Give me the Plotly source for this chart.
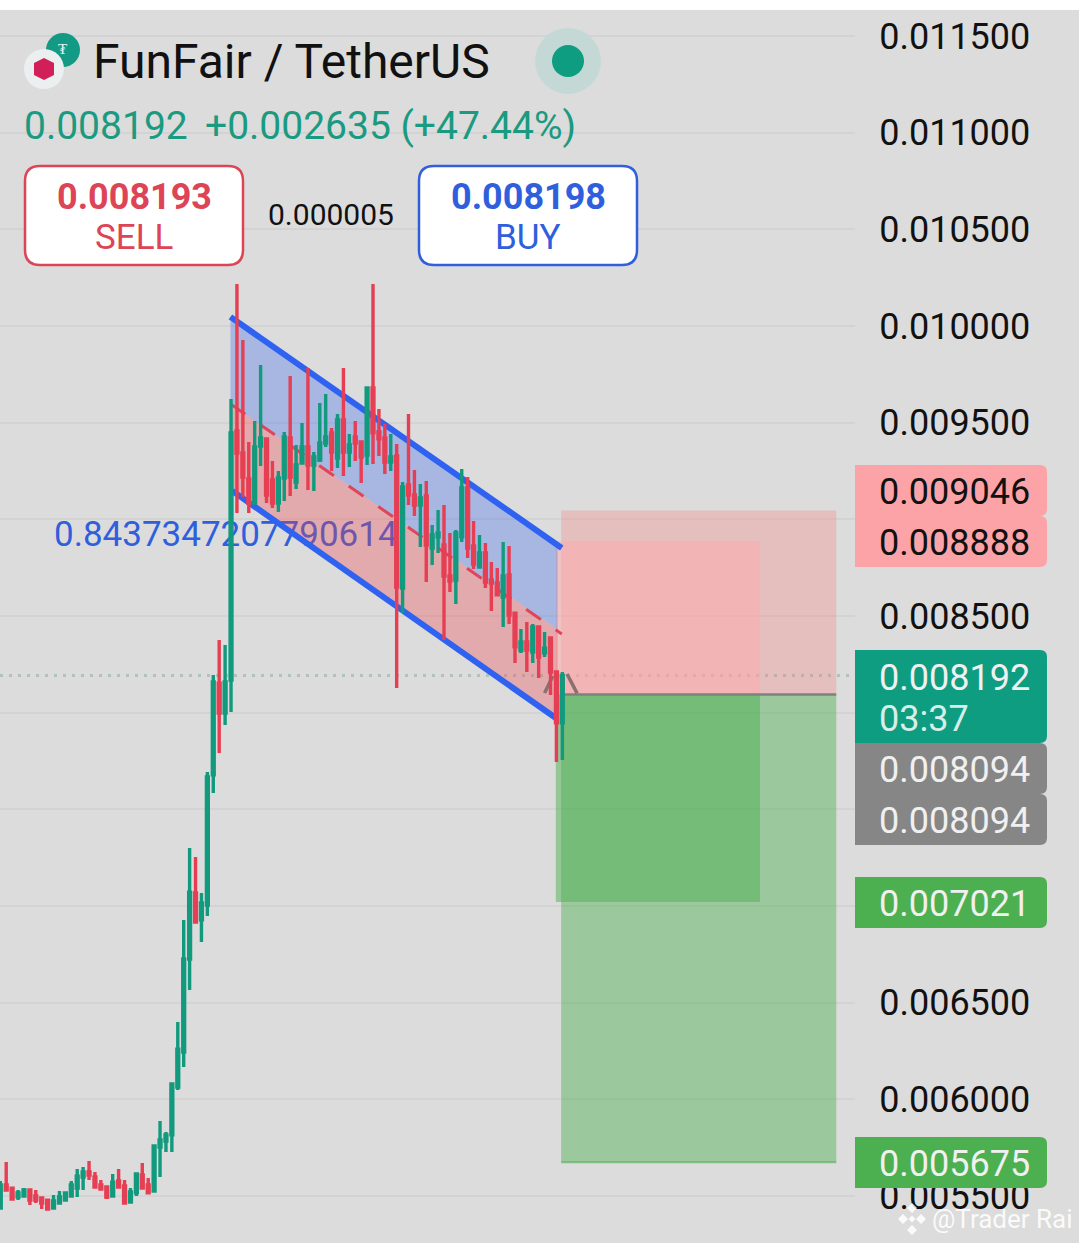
#FunFair / TetherUS chart with channel and two position boxes
import plotly.graph_objects as go

W = 1079; H = 1243
PLOT_W = 855

open_ = [0.005438,0.005557,0.005541,0.005495,0.005500,0.005531,0.005500,0.005490,0.005479,0.005438,
    0.005464,0.005479,0.005500,0.005541,0.005598,0.005624,0.005598,0.005557,0.005547,0.005500,
    0.005578,0.005552,0.005469,0.005516,0.005609,0.005557,0.005526,0.005753,0.005784,0.005816,
    0.006064,0.006245,0.006726,0.007067,0.006928,0.007005,0.007678,0.008153,0.007998,0.008169,
    0.009457,0.009343,0.009209,0.009084,0.009379,0.009416,0.009203,0.009084,0.009214,0.009421,
    0.009193,0.009291,0.009374,0.009281,0.009307,0.009395,0.009447,0.009317,0.009514,0.009348,
    0.009426,0.009400,0.009333,0.009679,0.009452,0.009421,0.009296,0.009328,0.008645,0.009178,
    0.009126,0.009074,0.009121,0.008852,0.008909,0.008867,0.008707,0.008686,0.008909,0.009162,
    0.008862,0.008753,0.008826,0.008686,0.008671,0.008598,0.008712,0.008515,0.008324,0.008366,
    0.008314,0.008443,0.008309,0.008386,0.008210,0.007947]
high = [0.005578,0.005676,0.005547,0.005531,0.005541,0.005536,0.005531,0.005490,0.005479,0.005505,
    0.005526,0.005521,0.005578,0.005640,0.005650,0.005681,0.005624,0.005583,0.005547,0.005614,
    0.005640,0.005583,0.005541,0.005619,0.005671,0.005593,0.005764,0.005888,0.005831,0.006084,
    0.006400,0.006928,0.007300,0.007253,0.007067,0.007693,0.008195,0.008376,0.008350,0.009622,
    0.010217,0.009928,0.009400,0.009509,0.009798,0.009416,0.009302,0.009250,0.009452,0.009741,
    0.009384,0.009498,0.009783,0.009348,0.009602,0.009648,0.009472,0.009545,0.009783,0.009441,
    0.009509,0.009400,0.009679,0.010217,0.009571,0.009493,0.009441,0.009390,0.009193,0.009545,
    0.009255,0.009183,0.009198,0.008971,0.009048,0.009074,0.008929,0.008945,0.009260,0.009219,
    0.008991,0.008919,0.008878,0.008779,0.008748,0.008883,0.008862,0.008521,0.008433,0.008469,
    0.008459,0.008448,0.008417,0.008386,0.008216,0.008210]
low = [0.005438,0.005531,0.005479,0.005479,0.005495,0.005453,0.005464,0.005433,0.005433,0.005438,
    0.005459,0.005479,0.005495,0.005495,0.005531,0.005583,0.005547,0.005531,0.005484,0.005500,
    0.005547,0.005459,0.005469,0.005500,0.005536,0.005510,0.005521,0.005598,0.005728,0.005728,
    0.006048,0.006167,0.006566,0.006912,0.006814,0.006948,0.007584,0.007791,0.007936,0.008003,
    0.009033,0.009116,0.009033,0.009084,0.009276,0.009084,0.009059,0.009038,0.009095,0.009121,
    0.009157,0.009291,0.009152,0.009147,0.009296,0.009374,0.009250,0.009266,0.009224,0.009271,
    0.009302,0.009188,0.009281,0.009286,0.009328,0.009234,0.009250,0.008128,0.008515,0.009074,
    0.009017,0.008857,0.008676,0.008764,0.008826,0.008376,0.008624,0.008562,0.008883,0.008800,
    0.008743,0.008748,0.008645,0.008526,0.008609,0.008443,0.008459,0.008257,0.008309,0.008210,
    0.008257,0.008179,0.008288,0.008091,0.007745,0.007755]
close = [0.005557,0.005531,0.005484,0.005516,0.005531,0.005479,0.005479,0.005464,0.005433,0.005474,
    0.005495,0.005516,0.005557,0.005603,0.005624,0.005609,0.005547,0.005536,0.005495,0.005572,
    0.005547,0.005464,0.005521,0.005614,0.005541,0.005516,0.005759,0.005790,0.005816,0.006079,
    0.006260,0.006726,0.007072,0.006917,0.007016,0.007667,0.008159,0.007998,0.008159,0.009447,
    0.009343,0.009219,0.009084,0.009374,0.009421,0.009126,0.009084,0.009214,0.009426,0.009219,
    0.009281,0.009374,0.009281,0.009322,0.009395,0.009426,0.009348,0.009514,0.009348,0.009384,
    0.009395,0.009322,0.009679,0.009447,0.009416,0.009296,0.009322,0.008650,0.009167,0.009126,
    0.009074,0.009110,0.008867,0.008919,0.008929,0.008707,0.008681,0.008929,0.009162,0.008852,
    0.008769,0.008826,0.008676,0.008671,0.008609,0.008707,0.008505,0.008340,0.008366,0.008324,
    0.008443,0.008288,0.008334,0.008210,0.007947,0.008192]
candles = list(range(len(close)))

tick_vals = [0.0055,0.006,0.0065,0.007,0.0075,0.008,0.0085,0.009,0.0095,0.01,0.0105,0.011,0.0115]

# drawing tools, x in candle numbers, y in prices
channel_x = [38.9, 94.9]
channel_top = [0.010047, 0.008852]
channel_mid = [0.009597, 0.008407]
channel_bottom_x = [39.2, 93.9]
channel_bottom = [0.009147, 0.007972]

outer_x = [94.8, 141.3]
inner_x = [93.9, 128.4]
outer_stop = 0.009046
inner_stop = 0.008888
entry = 0.008094
inner_target = 0.007021
outer_target = 0.005675
last_price = 0.008192
arrow_left_x = [92.0, 93.4]
arrow_left_y = [0.008102, 0.008190]
arrow_right_x = [95.8, 97.5]
arrow_right_y = [0.008200, 0.008100]

# axis ranges that put the candles where the screenshot has them
y_top = 0.011686
y_bottom = 0.005257
x_left = -0.05
x_right = 144.47

GREEN = '#129a7e'
RED = '#e63e52'
BLUE = '#2f62f0'
TEXT_BLUE = '#2f5fdc'
FONT = 'Roboto'
PRICE_SIZE = 36

def fx(px):
    return px / PLOT_W

def fy(py):
    return 1 - py / H

def rounded(x0, y0, x1, y1, r, left=True):
    # path in paper coords, left corners can stay square for the price pills
    rl = r if left else 0
    pts = 'M %f,%f ' % (fx(x0 + rl), fy(y0))
    pts += 'L %f,%f ' % (fx(x1 - r), fy(y0))
    pts += 'Q %f,%f %f,%f ' % (fx(x1), fy(y0), fx(x1), fy(y0 + r))
    pts += 'L %f,%f ' % (fx(x1), fy(y1 - r))
    pts += 'Q %f,%f %f,%f ' % (fx(x1), fy(y1), fx(x1 - r), fy(y1))
    pts += 'L %f,%f ' % (fx(x0 + rl), fy(y1))
    if left:
        pts += 'Q %f,%f %f,%f ' % (fx(x0), fy(y1), fx(x0), fy(y1 - r))
        pts += 'L %f,%f ' % (fx(x0), fy(y0 + r))
        pts += 'Q %f,%f %f,%f ' % (fx(x0), fy(y0), fx(x0 + r), fy(y0))
    else:
        pts += 'L %f,%f ' % (fx(x0), fy(y0))
    return pts + 'Z'

def poly(points):
    return 'M ' + ' L '.join('%f,%f' % (fx(a), fy(b)) for a, b in points) + ' Z'

def paper_shape(path, fill, line='rgba(0,0,0,0)', width=0):
    return dict(type='path', xref='paper', yref='paper', path=path, fillcolor=fill,
                line=dict(color=line, width=width), layer='above')

def circle(cx, cy, r, fill):
    return dict(type='circle', xref='paper', yref='paper', x0=fx(cx - r), x1=fx(cx + r),
                y0=fy(cy + r), y1=fy(cy - r), fillcolor=fill, line=dict(width=0), layer='above')

def label(px, py, text, size, color, anchor='left', bold=False):
    return dict(xref='paper', yref='paper', x=fx(px), y=fy(py), text=('<b>%s</b>' % text) if bold else text,
                showarrow=False, xanchor=anchor, yanchor='middle',
                font=dict(family=FONT, size=size, color=color))

fig = go.Figure()
fig.add_trace(go.Candlestick(x=candles, open=open_, high=high, low=low, close=close,
    whiskerwidth=0,
    increasing=dict(line=dict(color=GREEN, width=3.4), fillcolor=GREEN),
    decreasing=dict(line=dict(color=RED, width=3.4), fillcolor=RED)))

shapes = []
# blue number sits behind the candles so it goes in as a shape label
shapes.append(dict(type='rect', xref='paper', yref='paper', x0=fx(48), x1=fx(420), y0=fy(552), y1=fy(510),
    fillcolor='rgba(0,0,0,0)', line=dict(width=0), layer='between',
    label=dict(text='0.8437347207790614', textposition='middle left',
               font=dict(family=FONT, size=35, color=TEXT_BLUE))))

def box(xs, y0, y1, fill):
    return dict(type='rect', x0=xs[0], x1=xs[1], y0=y0, y1=y1, fillcolor=fill,
                line=dict(width=0), layer='between')

shapes.append(box(outer_x, entry, outer_stop, 'rgba(255,110,110,0.27)'))
shapes.append(box(outer_x, outer_target, entry, 'rgba(76,175,80,0.44)'))
shapes.append(box(inner_x, entry, inner_stop, 'rgba(255,170,170,0.5)'))
shapes.append(box(inner_x, inner_target, entry, 'rgba(76,175,80,0.5)'))
shapes.append(dict(type='line', x0=outer_x[0], x1=outer_x[1], y0=entry, y1=entry,
    line=dict(color='#808080', width=2.5), layer='between'))
shapes.append(dict(type='line', x0=outer_x[0], x1=outer_x[1], y0=outer_target, y1=outer_target,
    line=dict(color='rgba(76,175,80,0.6)', width=2), layer='between'))

# channel fills
def quad(xa, ya0, ya1, xb, yb0, yb1, fill):
    return dict(type='path', path='M %f,%f L %f,%f L %f,%f L %f,%f Z' % (xa, ya0, xb, yb0, xb, yb1, xa, ya1),
                fillcolor=fill, line=dict(width=0), layer='between')

shapes.append(quad(channel_x[0], channel_top[0], channel_mid[0], 94.2, 0.008883, 0.008430, 'rgba(47,98,240,0.3)'))
shapes.append(quad(channel_x[0], channel_mid[0], channel_bottom[0], 94.2, 0.008430, 0.007950, 'rgba(240,70,80,0.33)'))
shapes.append(dict(type='line', x0=channel_x[0], x1=channel_x[1], y0=channel_mid[0], y1=channel_mid[1],
    line=dict(color='#e0455a', width=3, dash='18px,18px'), layer='between'))
shapes.append(dict(type='line', x0=channel_x[0], x1=channel_x[1], y0=channel_top[0], y1=channel_top[1],
    line=dict(color=BLUE, width=6), layer='between'))
shapes.append(dict(type='line', x0=channel_bottom_x[0], x1=channel_bottom_x[1], y0=channel_bottom[0], y1=channel_bottom[1],
    line=dict(color=BLUE, width=6), layer='between'))
shapes.append(dict(type='line', x0=arrow_left_x[0], x1=arrow_left_x[1], y0=arrow_left_y[0], y1=arrow_left_y[1],
    line=dict(color='#8a7070', width=3.5), layer='between'))
shapes.append(dict(type='line', x0=arrow_right_x[0], x1=arrow_right_x[1], y0=arrow_right_y[0], y1=arrow_right_y[1],
    line=dict(color='#8a7070', width=3.5), layer='between'))
shapes.append(dict(type='line', xref='paper', x0=0, x1=1, y0=last_price, y1=last_price,
    line=dict(color='#aec4ba', width=3, dash='3px,6px'), layer='between'))

# strip of white at the very top of the screenshot
shapes.append(dict(type='rect', xref='paper', yref='paper', x0=0, x1=fx(W), y0=fy(10), y1=1,
    fillcolor='white', line=dict(width=0), layer='above'))

# header icons
shapes.append(circle(63, 50, 17, '#129a85'))
shapes.append(circle(44, 69, 20, '#eceff0'))
shapes.append(paper_shape(poly([(44,58),(54,63),(54,75),(44,80),(34,75),(34,63)]), '#d21f5a'))
shapes.append(circle(568, 61, 33, '#c4d9d5'))
shapes.append(circle(568, 61, 16, '#0f9d82'))

# sell/buy buttons
shapes.append(paper_shape(rounded(25, 166, 243, 265, 15), 'white', '#dd4455', 2.5))
shapes.append(paper_shape(rounded(419, 166, 637, 265, 15), 'white', '#2f5fdc', 2.5))

# price pills on the right
PILL_L = 855; PILL_R = 1047
shapes.append(paper_shape(rounded(PILL_L, 465, PILL_R, 516, 7, left=False), '#fca3a7'))
shapes.append(paper_shape(rounded(PILL_L, 516, PILL_R, 567, 7, left=False), '#fca3a7'))
shapes.append(paper_shape(rounded(PILL_L, 650, PILL_R, 743, 7, left=False), '#0f9d82'))
shapes.append(paper_shape(rounded(PILL_L, 743, PILL_R, 794, 7, left=False), '#868686'))
shapes.append(paper_shape(rounded(PILL_L, 794, PILL_R, 845, 7, left=False), '#868686'))
shapes.append(paper_shape(rounded(PILL_L, 877, PILL_R, 928, 7, left=False), '#4caf50'))
shapes.append(paper_shape(rounded(PILL_L, 1137, PILL_R, 1188, 7, left=False), '#4caf50'))

# watermark logo
for cx, cy, r in [(912,1208,5),(903,1219,5),(921,1219,5),(912,1230,5),(912,1219,3.5)]:
    shapes.append(paper_shape(poly([(cx,cy-r),(cx+r,cy),(cx,cy+r),(cx-r,cy)]), 'rgba(255,255,255,0.85)'))

notes = [
    label(91, 62, 'FunFair / TetherUS', 48, '#111111'),
    label(22, 126, '0.008192', 39, '#1a9a80'),
    label(203, 126, '+0.002635 (+47.44%)', 39, '#1a9a80'),
    label(134, 197, '0.008193', 36, '#dd4455', 'center', True),
    label(134, 238, 'SELL', 35, '#dd4455', 'center'),
    label(331, 214, '0.000005', 30, '#111111', 'center'),
    label(528, 197, '0.008198', 36, '#2f5fdc', 'center', True),
    label(528, 238, 'BUY', 35, '#2f5fdc', 'center'),
    label(63, 49, '₮', 15, '#e8f3f0', 'center'),
    label(877, 492, '0.009046', PRICE_SIZE, '#111111'),
    label(877, 543, '0.008888', PRICE_SIZE, '#111111'),
    label(877, 678, '0.008192', PRICE_SIZE, '#f0f0f0'),
    label(877, 719, '03:37', PRICE_SIZE, '#d8eee8'),
    label(877, 770, '0.008094', PRICE_SIZE, '#f0f0f0'),
    label(877, 821, '0.008094', PRICE_SIZE, '#f0f0f0'),
    label(877, 904, '0.007021', PRICE_SIZE, '#f0f0f0'),
    label(877, 1164, '0.005675', PRICE_SIZE, '#f0f0f0'),
    label(930, 1219, '@Trader Rai', 26, 'rgba(255,255,255,0.88)'),
]

fig.update_layout(
    width=W, height=H, margin=dict(l=0, r=W - PLOT_W, t=0, b=0),
    paper_bgcolor='#dcdcdc', plot_bgcolor='#dcdcdc',
    showlegend=False, boxgap=0.55,
    shapes=shapes, annotations=notes,
    xaxis=dict(visible=False, range=[x_left, x_right], rangeslider=dict(visible=False)),
    yaxis=dict(side='right', range=[y_bottom, y_top], tickmode='array', tickvals=tick_vals, tickformat='.6f',
        gridcolor='#d3d3d3', gridwidth=2, zeroline=False, showline=False,
        ticks='outside', ticklen=16, tickcolor='rgba(0,0,0,0)',
        tickfont=dict(family=FONT, size=PRICE_SIZE, color='#111111')),
)

fig.write_html("out.html", config=dict(displayModeBar=False), post_script="document.body.style.margin='0';")
